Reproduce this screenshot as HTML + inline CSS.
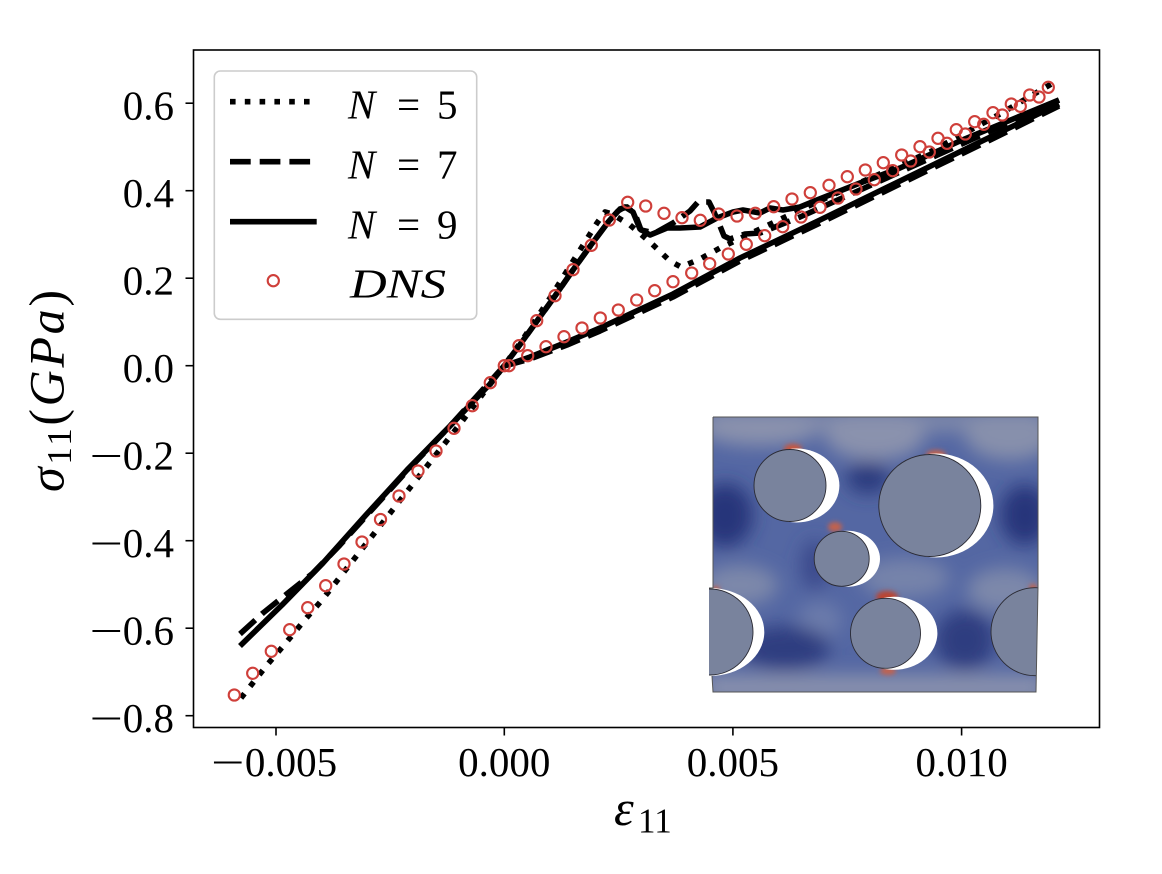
<!DOCTYPE html>
<html><head><meta charset="utf-8">
<style>html,body{margin:0;padding:0;background:#fff}svg{display:block}</style>
</head>
<body>
<svg width="1162" height="874" viewBox="0 0 1162 874" xmlns="http://www.w3.org/2000/svg" font-family="'Liberation Serif', serif">
<defs>
<clipPath id="ic"><path d="M713,417 L1038,417 L1038,588 L1036,692 L713,692 L712,676 L709,676 L709,588 L713,588 Z"/></clipPath>
<filter id="bl" x="-30%" y="-30%" width="160%" height="160%"><feGaussianBlur stdDeviation="9"/></filter>
<filter id="bl2" x="-50%" y="-50%" width="200%" height="200%"><feGaussianBlur stdDeviation="2.5"/></filter>
</defs>
<rect width="1162" height="874" fill="#fff"/>

<!-- lines -->
<g fill="none" stroke="#000" stroke-width="5.6" stroke-linejoin="round">
  <path d="M240,646 L282,605 L323,563 L365,516 L407,470 L450,426 L490,384 L504,366 L519,346 L537,321 L555,296 L573,270 L591,245 L609,221 L618,211 L625,207 L633,212 L640,229 L650,235 L667,228 L680,228 L700,227 L717,218 L733,212 L743,210 L760,213 L770,208 L783,210 L800,207 L817,200 L860,183 L900,168 L960,141 L1059,100"/>
  <path d="M504,366 L530,357 L567,342 L600,328 L673,294 L740,258 L820,220 L900,181 L980,142 L1059,104"/>
  <path stroke-dasharray="20.7 9" d="M240,634 L263,613 L283,597 L313,573 L340,545 L407,471 L450,426 L504,366 L519,346 L537,321 L555,296 L573,270 L591,245 L609,221 L620,209 L627,207 L635,214 L641,230 L655,233 L673,223 L690,211 L698,202 L709,202 L714,212 L720,226 L724,236 L730,239 L745,234 L760,233 L800,217 L900,172 L1059,100"/>
  <path stroke-dasharray="20.7 9" d="M504,366 L530,359 L567,345 L600,331 L673,297 L740,261 L820,223 L900,184 L980,145 L1059,106"/>
  <path stroke-dasharray="5.6 9.2" d="M241,698 L267,665 L285,644 L303,622 L322,600 L340,577 L380,526 L420,475 L460,424 L504,366 L525,336 L550,298 L580,250 L597,223 L605,212 L612,214 L630,225 L650,242 L670,261 L681,267 L700,259 L720,248 L760,229 L800,210 L850,187 L930,152 L1000,114 L1053,83"/>
</g>

<!-- DNS circles -->
<g fill="none" stroke="#cf3f3a" stroke-width="2.1">
<circle cx="234.3" cy="695" r="5.6"/><circle cx="252.7" cy="673.3" r="5.6"/><circle cx="271.3" cy="651.3" r="5.6"/><circle cx="289.7" cy="629.7" r="5.6"/><circle cx="307.7" cy="607.7" r="5.6"/><circle cx="325.7" cy="585.7" r="5.6"/><circle cx="344" cy="564" r="5.6"/><circle cx="362" cy="542" r="5.6"/><circle cx="380.5" cy="519.5" r="5.6"/><circle cx="399" cy="496" r="5.6"/><circle cx="418" cy="471" r="5.6"/><circle cx="436" cy="451" r="5.6"/><circle cx="454" cy="428.3" r="5.6"/><circle cx="472.3" cy="405.7" r="5.6"/><circle cx="490.3" cy="382.7" r="5.6"/><circle cx="504.3" cy="365.7" r="5.6"/><circle cx="509" cy="365.7" r="5.6"/>
<circle cx="519" cy="345.7" r="5.6"/><circle cx="536.7" cy="320.7" r="5.6"/><circle cx="555" cy="295.7" r="5.6"/><circle cx="573" cy="269.7" r="5.6"/><circle cx="591.3" cy="245.3" r="5.6"/><circle cx="609.3" cy="220" r="5.6"/><circle cx="627.7" cy="202.3" r="5.6"/><circle cx="645.7" cy="206" r="5.6"/><circle cx="664" cy="213.3" r="5.6"/><circle cx="682" cy="217.7" r="5.6"/><circle cx="700.3" cy="220.3" r="5.6"/><circle cx="718.7" cy="214" r="5.6"/><circle cx="737" cy="216" r="5.6"/><circle cx="755.3" cy="213.3" r="5.6"/><circle cx="773.7" cy="206.7" r="5.6"/><circle cx="792" cy="199" r="5.6"/><circle cx="810.3" cy="192.7" r="5.6"/><circle cx="829" cy="185.3" r="5.6"/><circle cx="847.3" cy="176.7" r="5.6"/><circle cx="865.3" cy="170" r="5.6"/><circle cx="883.3" cy="162.7" r="5.6"/><circle cx="901.7" cy="155" r="5.6"/><circle cx="920" cy="146.7" r="5.6"/><circle cx="938" cy="138.3" r="5.6"/><circle cx="956.3" cy="129.7" r="5.6"/><circle cx="974.7" cy="121.7" r="5.6"/><circle cx="993" cy="112.7" r="5.6"/><circle cx="1011.3" cy="104" r="5.6"/><circle cx="1029.7" cy="95" r="5.6"/><circle cx="1048.3" cy="87.3" r="5.6"/>
<circle cx="527.7" cy="355.7" r="5.6"/><circle cx="546" cy="346.7" r="5.6"/><circle cx="564" cy="336.7" r="5.6"/><circle cx="582" cy="328" r="5.6"/><circle cx="600.3" cy="318" r="5.6"/><circle cx="618.3" cy="310" r="5.6"/><circle cx="636.7" cy="300" r="5.6"/><circle cx="654.7" cy="290.7" r="5.6"/><circle cx="673" cy="281.7" r="5.6"/><circle cx="691.7" cy="273" r="5.6"/><circle cx="709.7" cy="263.7" r="5.6"/><circle cx="728.3" cy="254" r="5.6"/><circle cx="746.3" cy="244.3" r="5.6"/><circle cx="764.7" cy="235.7" r="5.6"/><circle cx="782.7" cy="226.7" r="5.6"/><circle cx="801" cy="217" r="5.6"/><circle cx="820" cy="207.3" r="5.6"/><circle cx="838" cy="198" r="5.6"/><circle cx="856" cy="189" r="5.6"/><circle cx="874.3" cy="179.7" r="5.6"/><circle cx="892.7" cy="170.7" r="5.6"/><circle cx="910.7" cy="161" r="5.6"/><circle cx="929.3" cy="152" r="5.6"/><circle cx="947" cy="143.3" r="5.6"/><circle cx="965.3" cy="134" r="5.6"/><circle cx="983.7" cy="124.3" r="5.6"/><circle cx="1002.3" cy="115" r="5.6"/><circle cx="1020.3" cy="106.3" r="5.6"/><circle cx="1039" cy="97" r="5.6"/>
</g>

<!-- inset -->
<g clip-path="url(#ic)">
  <rect x="705" y="410" width="340" height="290" fill="#5467a3"/>
  <g filter="url(#bl)">
    <rect x="705" y="410" width="340" height="22" fill="#7f89aa"/>
    <ellipse cx="760" cy="428" rx="60" ry="18" fill="#8a92ad"/>
    <ellipse cx="875" cy="435" rx="50" ry="25" fill="#8a92ad"/>
    <ellipse cx="1010" cy="435" rx="45" ry="25" fill="#8790ac"/>
    <rect x="705" y="675" width="340" height="25" fill="#8a92ad"/>
    <ellipse cx="740" cy="585" rx="38" ry="20" fill="#7d88aa"/>
    <ellipse cx="905" cy="578" rx="45" ry="20" fill="#7683aa"/>
    <ellipse cx="1005" cy="590" rx="38" ry="22" fill="#7d88aa"/>
    <ellipse cx="820" cy="620" rx="22" ry="18" fill="#6c7bab"/>
    <ellipse cx="725" cy="515" rx="28" ry="32" fill="#26357a"/>
    <ellipse cx="1025" cy="515" rx="25" ry="30" fill="#26357a"/>
    <ellipse cx="868" cy="478" rx="22" ry="16" fill="#2c3b7e"/>
    <ellipse cx="785" cy="648" rx="45" ry="22" fill="#2e3d80"/>
    <ellipse cx="965" cy="640" rx="30" ry="30" fill="#2e3d80"/>
    <ellipse cx="815" cy="565" rx="14" ry="25" fill="#3a4a8c"/>
  </g>
  <g filter="url(#bl2)">
    <ellipse cx="793" cy="449" rx="9" ry="5" fill="#c9563c"/>
    <ellipse cx="936" cy="455" rx="10" ry="5" fill="#c2624e"/>
    <ellipse cx="835" cy="527" rx="7" ry="5" fill="#c2624e"/>
    <ellipse cx="887" cy="597" rx="11" ry="6" fill="#bb4530"/>
    <ellipse cx="888" cy="671" rx="8" ry="4" fill="#c2624e"/>
    <circle cx="716" cy="590" r="4" fill="#c2624e"/>
    <circle cx="1033" cy="588" r="4" fill="#c2624e"/>
  </g>
  <g fill="#fff">
    <ellipse cx="796.7" cy="485.5" rx="42.7" ry="37"/>
    <ellipse cx="936.2" cy="505.5" rx="57.2" ry="52"/>
    <ellipse cx="847.5" cy="558.8" rx="32.5" ry="28"/>
    <ellipse cx="894.2" cy="633.3" rx="43.2" ry="36.5"/>
    <ellipse cx="710" cy="632" rx="54.3" ry="44"/>
  </g>
  <g fill="#79839d" stroke="#2a2a33" stroke-width="0.9">
    <circle cx="790" cy="485.5" r="36"/>
    <circle cx="929.8" cy="505.5" r="51"/>
    <circle cx="841.7" cy="558.8" r="27.5"/>
    <circle cx="885.5" cy="633.3" r="35"/>
    <circle cx="710" cy="632" r="43"/>
    <circle cx="1035" cy="631.7" r="44"/>
  </g>
</g>
<path d="M713,417 L1038,417 L1038,588 L1036,692 L713,692 L712,676 M709,588 L713,588 L713,417" fill="none" stroke="#555" stroke-width="1"/>

<rect x="193.5" y="50" width="906" height="677.5" fill="none" stroke="#000" stroke-width="1.6"/>

<g stroke="#000" stroke-width="1.6">
  <line x1="276" y1="727.5" x2="276" y2="735.5"/>
  <line x1="504.3" y1="727.5" x2="504.3" y2="735.5"/>
  <line x1="732.9" y1="727.5" x2="732.9" y2="735.5"/>
  <line x1="961.6" y1="727.5" x2="961.6" y2="735.5"/>
  <line x1="185.5" y1="103.2" x2="193.5" y2="103.2"/>
  <line x1="185.5" y1="190.7" x2="193.5" y2="190.7"/>
  <line x1="185.5" y1="278.2" x2="193.5" y2="278.2"/>
  <line x1="185.5" y1="365.7" x2="193.5" y2="365.7"/>
  <line x1="185.5" y1="453.2" x2="193.5" y2="453.2"/>
  <line x1="185.5" y1="540.7" x2="193.5" y2="540.7"/>
  <line x1="185.5" y1="628.2" x2="193.5" y2="628.2"/>
  <line x1="185.5" y1="715.7" x2="193.5" y2="715.7"/>
</g>

<g font-size="41" fill="#000" text-anchor="end">
  <text x="174" y="119.7">0.6</text>
  <text x="174" y="207.2">0.4</text>
  <text x="174" y="294.7">0.2</text>
  <text x="174" y="382.2">0.0</text>
  <text x="174" y="469.7">0.2</text>
  <text x="174" y="557.2">0.4</text>
  <text x="174" y="644.7">0.6</text>
  <text x="174" y="732.2">0.8</text>
</g>
<g font-size="41" fill="#000">
  <text transform="translate(89.5,469.7) scale(1.45,1)">−</text>
  <text transform="translate(89.5,557.2) scale(1.45,1)">−</text>
  <text transform="translate(89.5,644.7) scale(1.45,1)">−</text>
  <text transform="translate(89.5,732.2) scale(1.45,1)">−</text>
</g>

<g font-size="41" fill="#000" text-anchor="middle">
  <text x="291" y="776">0.005</text>
  <text x="504.3" y="776">0.000</text>
  <text x="732.9" y="776">0.005</text>
  <text x="961.6" y="776">0.010</text>
</g>
<text transform="translate(211,776) scale(1.45,1)" font-size="41" fill="#000">−</text>

<text x="614" y="825" font-size="50" font-style="italic" fill="#000">ε</text>
<text x="638" y="832.7" font-size="35" fill="#000">11</text>

<text transform="translate(63.5,492) rotate(-90)" font-size="50" fill="#000" textLength="202" lengthAdjust="spacing"><tspan font-style="italic">σ</tspan><tspan font-size="35" dy="7.7">11</tspan><tspan dy="-7.7">(</tspan><tspan font-style="italic">GPa</tspan><tspan>)</tspan></text>

<rect x="214.3" y="71" width="262.4" height="248.3" rx="6" ry="6" fill="#fff" fill-opacity="0.8" stroke="#cccccc" stroke-width="1.6"/>
<g fill="none" stroke="#000" stroke-width="5.6">
  <line x1="230" y1="101.7" x2="316.7" y2="101.7" stroke-dasharray="5.6 9.2"/>
  <line x1="230" y1="161.7" x2="316.7" y2="161.7" stroke-dasharray="20.7 9"/>
  <line x1="230" y1="221.7" x2="316.7" y2="221.7"/>
</g>
<circle cx="273.3" cy="280.7" r="5.6" fill="none" stroke="#cf3f3a" stroke-width="2.1"/>
<g font-size="41" fill="#000">
  <text x="348" y="118.3" font-style="italic">N</text><text x="397" y="118.3">=</text><text x="437" y="118.3">5</text>
  <text x="348" y="178.3" font-style="italic">N</text><text x="397" y="178.3">=</text><text x="437" y="178.3">7</text>
  <text x="348" y="238.3" font-style="italic">N</text><text x="397" y="238.3">=</text><text x="437" y="238.3">9</text>
  <text x="350" y="297.3" font-style="italic" textLength="96" lengthAdjust="spacingAndGlyphs">DNS</text>
</g>
</svg>
</body>
</html>
